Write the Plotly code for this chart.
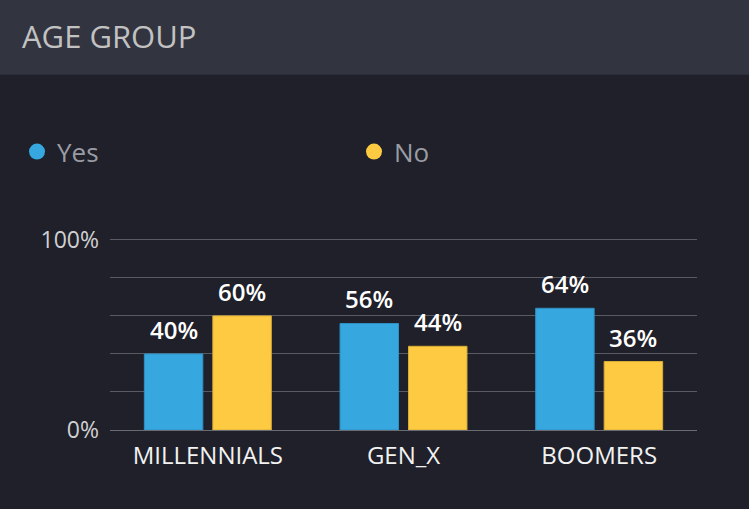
import plotly.graph_objects as go

categories = ["MILLENNIALS", "GEN_X", "BOOMERS"]
yes_values = [40, 56, 64]
no_values = [60, 44, 36]
series_names = ["Yes", "No"]
tick_values = [0, 20, 40, 60, 80, 100]
tick_labels = ["0%", "", "", "", "", "100%"]
title_text = "AGE GROUP"

W, H = 749, 509
Y_TOP = 102
ML, MR, MB = 110, 52, 79
ph = 190 * Y_TOP / 100
MT = H - MB - ph
pw = W - ML - MR

def px_x(p):
    return (p - ML) / pw

def px_y(p):
    return (H - MB - p) / ph

BLUE = "#37a7df"
YELLOW = "#fdca42"
FONT = "Open Sans, Noto Sans, sans-serif"

fig = go.Figure()
series = [(series_names[0], yes_values, BLUE, "#2f90c4", -1),
          (series_names[1], no_values, YELLOW, "#d9ad38", 1)]
annotations = []
for name, vals, col, lc, side in series:
    fig.add_trace(go.Bar(
        x=categories, y=vals, name=name,
        marker=dict(color=col, line=dict(color=lc, width=1)),
        showlegend=False, hoverinfo="skip"))
    fig.add_trace(go.Scatter(
        x=[None], y=[None], mode="markers", name=name,
        marker=dict(color=col, size=19, symbol="circle"), showlegend=True))
    for c, v in zip(categories, vals):
        annotations.append(dict(
            x=c, y=v, xref="x", yref="y", text=f"{v}%", showarrow=False,
            xanchor="center", yanchor="bottom", xshift=side * 34.3, yshift=6,
            font=dict(color="#ffffff", size=24, family=FONT, weight=600)))

annotations.append(dict(
    text=title_text, xref="paper", yref="paper", x=px_x(20), y=px_y(36),
    xanchor="left", yanchor="middle", showarrow=False,
    font=dict(size=31, color="#c2c2c2", family=FONT)))

fig.update_layout(
    width=W, height=H,
    margin=dict(l=ML, r=MR, t=MT, b=MB, pad=0),
    paper_bgcolor="#1f2029", plot_bgcolor="#1f2029",
    barmode="group", bargap=0.30, bargroupgap=0.146,
    font=dict(family=FONT, color="#c8c9cc"),
    legend=dict(orientation="h", x=px_x(17), y=px_y(152), xanchor="left", yanchor="middle",
                font=dict(size=26, color="#9a9ca4", family=FONT),
                bgcolor="rgba(0,0,0,0)", entrywidth=292, entrywidthmode="pixels",
                itemsizing="trace"),
    xaxis=dict(showgrid=False, showline=False, ticks="", zeroline=False,
               tickfont=dict(size=24, color="#f2f2f2", family=FONT), ticklabelstandoff=9),
    yaxis=dict(range=[0, Y_TOP], tickvals=tick_values, ticktext=tick_labels,
               showgrid=True, gridcolor="#595b63", gridwidth=1, zeroline=True,
               zerolinecolor="#6a6c73", zerolinewidth=1, showline=False, ticks="",
               tickfont=dict(size=23, color="#d0d0d2", family=FONT), ticklabelstandoff=10),
    shapes=[dict(type="rect", xref="paper", yref="paper", x0=px_x(-5), x1=px_x(W + 5),
                 y0=px_y(75), y1=px_y(-5), fillcolor="#323440", line=dict(width=0), layer="below")],
    annotations=annotations,
)

fig.write_html("out.html", config={"displayModeBar": False},
               post_script="document.body.style.margin='0px';")
